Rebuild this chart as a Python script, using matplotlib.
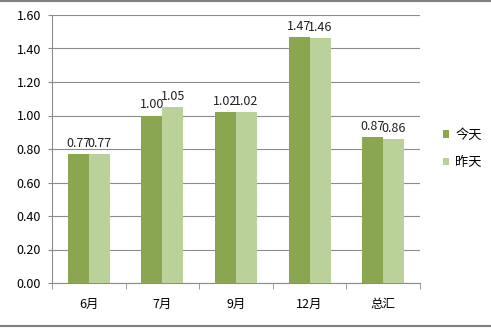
import matplotlib
matplotlib.use("Agg")
import matplotlib.pyplot as plt
from matplotlib.lines import Line2D
import numpy as np

plt.rcParams['font.family'] = ['Noto Sans CJK SC', 'DejaVu Sans']

categories = ["6月", "7月", "9月", "12月", "总汇"]
today = [0.77, 1.00, 1.02, 1.47, 0.87]
yesterday = [0.77, 1.05, 1.02, 1.46, 0.86]
series_names = ["今天", "昨天"]

c_dark = "#8AA650"
c_light = "#BBD19A"
grey = "#8C8C8C"

fig = plt.figure(figsize=(4.91, 3.28), dpi=100)
# top and bottom frame lines of the chart area
fig.add_artist(Line2D([0, 1], [0.997, 0.997], color="#808080", linewidth=1.5))
fig.add_artist(Line2D([0, 1], [0.006, 0.006], color="#808080", linewidth=1.5))

ax = fig.add_axes([52 / 491, 1 - 283 / 328, 368 / 491, 268 / 328])

x = np.arange(len(categories))
w = 0.285
b1 = ax.bar(x - w / 2, today, w, color=c_dark, label=series_names[0], zorder=3)
b2 = ax.bar(x + w / 2, yesterday, w, color=c_light, label=series_names[1], zorder=3)

for rect, v in zip(b1, today):
    ax.text(rect.get_x() + rect.get_width() / 2, v + 0.025, f"{v:.2f}",
            ha="center", va="bottom", fontsize=9, color="#222222", zorder=4)
for rect, v in zip(b2, yesterday):
    ax.text(rect.get_x() + rect.get_width() / 2, v + 0.025, f"{v:.2f}",
            ha="center", va="bottom", fontsize=9, color="#222222", zorder=4)

ax.set_xlim(-0.5, len(categories) - 0.5)
ax.set_ylim(0, 1.6)
ax.set_yticks(np.arange(0, 1.61, 0.2))
ax.set_yticklabels([f"{t:.2f}" for t in np.arange(0, 1.61, 0.2)], fontsize=9)
ax.set_xticks(x)
ax.set_xticklabels(categories, fontsize=9)
ax.set_xticks(np.arange(-0.5, len(categories), 1), minor=True)
ax.tick_params(axis="x", which="major", length=0, pad=11)
ax.tick_params(axis="x", which="minor", length=4, color=grey, direction="out")
ax.tick_params(axis="y", length=3, color=grey, pad=5)
ax.grid(axis="y", color=grey, linewidth=0.8, zorder=0)

for s in ["top", "right"]:
    ax.spines[s].set_visible(False)
ax.spines["left"].set_color(grey)
ax.spines["bottom"].set_color(grey)

ax.legend(loc="center left", bbox_to_anchor=(1.03, 0.5), frameon=False,
          fontsize=9.5, handlelength=0.45, handleheight=0.45, handletextpad=0.5,
          labelspacing=1.1)

fig.savefig("out.png", dpi=100)
